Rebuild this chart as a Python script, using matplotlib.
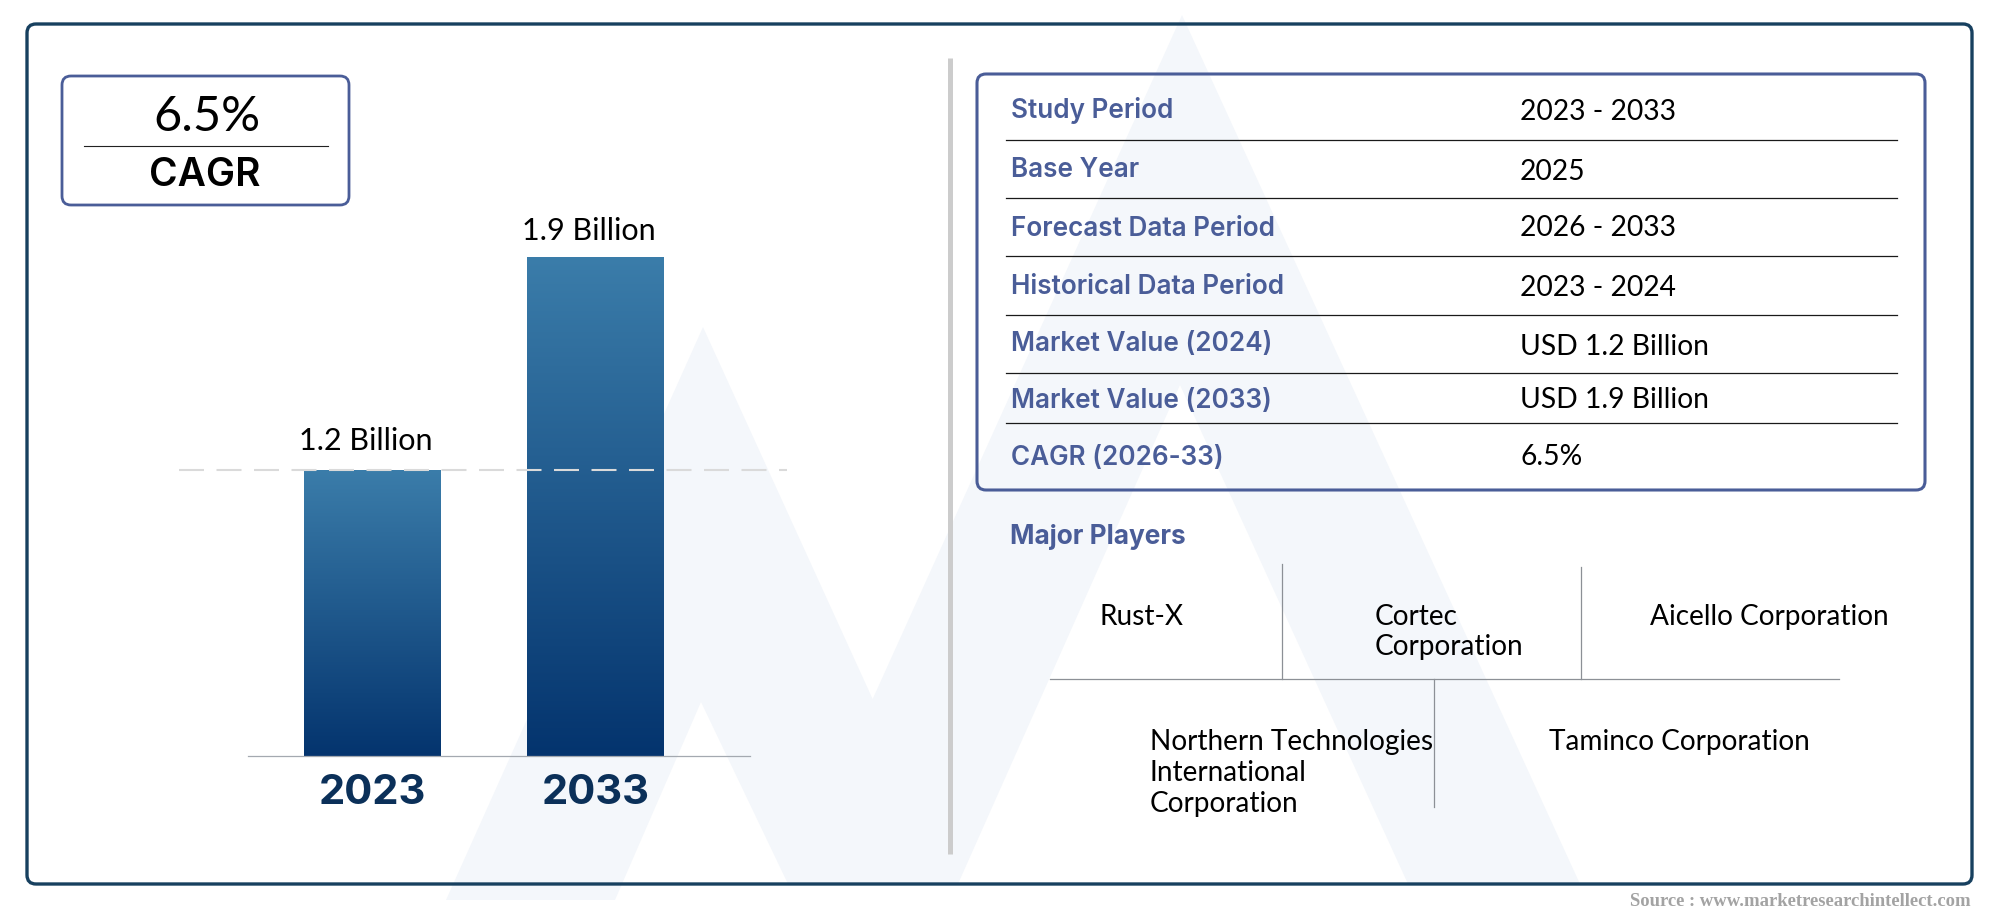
import matplotlib
matplotlib.use('Agg')
import matplotlib.pyplot as plt
import numpy as np
from matplotlib.colors import LinearSegmentedColormap
from matplotlib.patches import FancyBboxPatch, Polygon

# data
years = ['2023', '2033']
values = [1.2, 1.9]
value_labels = ['1.2 Billion', '1.9 Billion']
cagr = '6.5%'
row_names = ['Study Period', 'Base Year', 'Forecast Data Period', 'Historical Data Period',
             'Market Value (2024)', 'Market Value (2033)', 'CAGR (2026-33)']
row_values = ['2023 - 2033', '2025', '2026 - 2033', '2023 - 2024',
              'USD 1.2 Billion', 'USD 1.9 Billion', '6.5%']
players = ['Rust-X', 'Cortec\nCorporation', 'Aicello Corporation',
           'Northern Technologies\nInternational\nCorporation', 'Taminco Corporation']

BODY = 'Lato'
HEAD = 'Inter'
NAVY = '#0b3059'
BLUE = '#4a5d98'
W, H = 2000, 917

fig = plt.figure(figsize=(W / 100, H / 100), dpi=100)

# page axes in pixels, for the frame, boxes and table
bg = fig.add_axes([0, 0, 1, 1])
bg.set_xlim(0, W)
bg.set_ylim(H, 0)
bg.axis('off')

# watermark
wm = '#f4f7fb'
bg.add_patch(Polygon([(446, 900), (703, 327), (957, 884), (788, 884), (701, 702), (615, 900)], fc=wm, ec='none'))
bg.add_patch(Polygon([(789, 884), (1182, 15), (1580, 884), (1408, 884), (1180, 385), (958, 884)], fc=wm, ec='none'))


def box(x0, y0, x1, y1, color, lw, r=9):
    bg.add_patch(FancyBboxPatch((x0 + r, y0 + r), x1 - x0 - 2 * r, y1 - y0 - 2 * r,
                                boxstyle='round,pad=%d,rounding_size=%d' % (r, r),
                                fc='none', ec=color, lw=lw))


box(27, 24, 1972, 884, '#17405f', 2.4)
box(62, 76, 349, 205, BLUE, 2.0)
box(977, 74, 1925, 490, BLUE, 2.2)

# cagr box
bg.plot([84, 328], [146, 146], color='#222222', lw=0.8)
bg.text(207, 117, cagr, ha='center', va='center', family=BODY, fontsize=35, color='black')
bg.text(205, 175, 'CAGR', ha='center', va='center', family=HEAD, fontweight='semibold', fontsize=28, color='black')

# divider
bg.plot([950, 950], [58, 854], color='#cccccc', lw=3.6, solid_capstyle='butt')

# table
rule_y = [140, 198, 256, 315, 372.5, 423]
name_y = [110, 170, 229, 287, 344, 401, 458]
value_y = [112, 172, 228, 288, 347, 400, 457]
for y in rule_y:
    bg.plot([1006, 1897], [y, y], color='#1a1a1a', lw=0.9)
for name, val, yn, yv in zip(row_names, row_values, name_y, value_y):
    bg.text(1011, yn, name, ha='left', va='center', family=HEAD, fontweight='semibold', fontsize=18.8, color=BLUE)
    bg.text(1520, yv, val, ha='left', va='center', family=BODY, fontsize=20.3, color='black')

# major players
bg.text(1010, 537, 'Major Players', ha='left', va='center', family=HEAD, fontweight='bold', fontsize=18.9, color=BLUE)
line_c = '#8c9096'
bg.plot([1281.5, 1281.5], [564, 679], color=line_c, lw=0.9)
bg.plot([1581, 1581], [567, 679], color=line_c, lw=0.9)
bg.plot([1050, 1839], [679, 679], color=line_c, lw=0.9)
bg.plot([1434, 1434], [679, 807], color=line_c, lw=0.9)
player_x = [1100, 1375, 1650, 1150, 1549]
player_y = [617, 632, 617, 773, 742]
for name, x, y in zip(players, player_x, player_y):
    bg.text(x, y, name, ha='left', va='center', family=BODY, fontsize=20.2, color='black', linespacing=1.22)

# source
bg.text(1971, 901, 'Source : www.marketresearchintellect.com', ha='right', va='center',
        family='Liberation Serif', fontweight='bold', fontsize=13.4, color='#a3a3a3')

# bars, baseline of the axis sits above zero like the original drawing
ax = fig.add_axes([248 / W, 1 - 756 / H, (750 - 248) / W, 556 / H])
ax.patch.set_alpha(0)
grad = LinearSegmentedColormap.from_list('bar', ['#04346e', '#3b7daa'])
x = np.arange(len(years))
bars = ax.bar(x, values, width=0.61, color='none')
for b, v in zip(bars, values):
    im = ax.imshow(np.linspace(1, 0, 256).reshape(-1, 1), cmap=grad, aspect='auto', vmin=0, vmax=1,
                   extent=[b.get_x(), b.get_x() + b.get_width(), 0.26, v], zorder=2)
    im.set_clip_path(b)
ax.set_xlim(-0.557, 1.693)
ax.set_ylim(0.26, 2.087)

ax.plot([-0.865, 1.86], [values[0], values[0]], color='#dadada', lw=1.5, dashes=(12, 6), clip_on=False, zorder=3)

label_y = [29, 26]
for xi, v, lab, dy in zip(x, values, value_labels, label_y):
    ax.annotate(lab, (xi, v), xytext=(-5, dy * 0.72), textcoords='offset points', ha='center', va='center',
                family=BODY, fontsize=22, color='black', annotation_clip=False)

for s in ['top', 'left', 'right']:
    ax.spines[s].set_visible(False)
ax.spines['bottom'].set_color('#a4a9b0')
ax.spines['bottom'].set_linewidth(0.9)
ax.set_yticks([])
ax.set_xticks(x)
ax.set_xticklabels(years, family=HEAD, fontweight='bold', fontsize=30, color=NAVY)
ax.tick_params(axis='x', length=0, pad=13)

fig.savefig('out.png', dpi=100)
